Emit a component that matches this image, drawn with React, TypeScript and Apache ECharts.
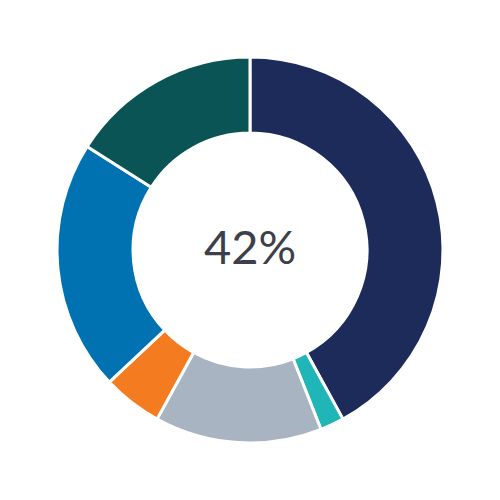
import { useEffect, useRef } from "react";
import * as echarts from "echarts";

const categories = ["A", "B", "C", "D", "E", "F"];
const values = [42, 2, 14, 5, 21, 16];
const colors = ["#1c2b5a", "#20b6b8", "#a9b4c3", "#f47b20", "#0072b2", "#0a5456"];
const centerLabel = "42%";

export default function App() {
    const chartRef = useRef<HTMLDivElement | null>(null);

    useEffect(() => {
        if (!chartRef.current) return;
        document.body.style.margin = "0";
        const chart = echarts.init(chartRef.current, null, { renderer: "svg" });

        chart.setOption({
            animation: false,
            color: colors,
            title: {
                text: centerLabel,
                left: "center",
                top: 217,
                textStyle: {
                    fontFamily: "Lato",
                    fontSize: 47,
                    fontWeight: "normal",
                    color: "#3d4049",
                },
            },
            series: [
                {
                    type: "pie",
                    radius: [117, 193],
                    center: [250, 250],
                    startAngle: 90,
                    clockwise: true,
                    label: { show: false },
                    labelLine: { show: false },
                    itemStyle: { borderColor: "#fff", borderWidth: 3 },
                    emphasis: { disabled: true },
                    data: categories.map((name, i) => ({ name, value: values[i] })),
                },
            ],
        });

        return () => chart.dispose();
    }, []);

    return <div ref={chartRef} style={{ width: 500, height: 500 }} />;
}
